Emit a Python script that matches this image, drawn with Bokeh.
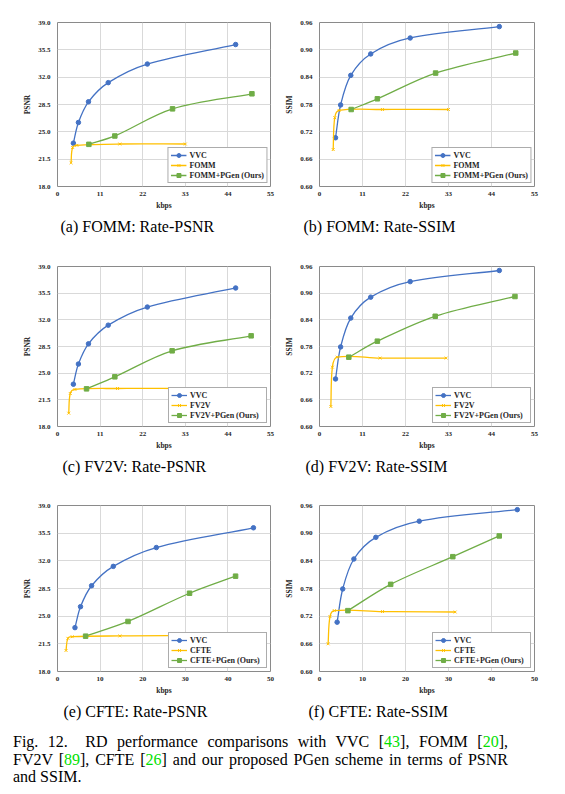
import numpy as np
from bokeh.plotting import figure
from bokeh.models import (Range1d, FixedTicker, Legend, LegendItem, Title, Div,
                          PrintfTickFormatter)
from bokeh.layouts import column, row
from bokeh.embed import file_html
from bokeh.resources import INLINE

# ---------------- data ----------------
vvc_rate = [4.1, 5.4, 8.0, 13.1, 23.2, 46.0]
vvc_psnr = [23.55, 26.2, 28.85, 31.3, 33.68, 36.18]
vvc_ssim = [0.707, 0.779, 0.844, 0.891, 0.926, 0.951]

fomm_rate = [3.5, 3.9, 5.0, 16.1, 33.0]
fomm_psnr = [21.04, 23.0, 23.27, 23.44, 23.44]
fomm_ssim = [0.681, 0.751, 0.767, 0.769, 0.769]
fomm_pgen_rate = [8.1, 14.8, 29.7, 50.2]
fomm_pgen_psnr = [23.4, 24.47, 27.94, 29.87]
fomm_pgen_ssim = [0.769, 0.7925, 0.849, 0.893]

fv2v_rate = [2.9, 3.3, 4.5, 15.5, 32.4]
fv2v_psnr = [19.75, 22.33, 22.86, 22.99, 22.99]
fv2v_ssim = [0.645, 0.7335, 0.756, 0.754, 0.754]
fv2v_pgen_rate = [7.5, 14.8, 29.6, 50.0]
fv2v_pgen_psnr = [22.94, 24.52, 27.93, 29.9]
fv2v_pgen_ssim = [0.756, 0.792, 0.848, 0.8925]

cfte_rate = [2.0, 2.44, 3.45, 14.65, 31.55]
cfte_psnr = [20.66, 22.2, 22.4, 22.5, 22.55]
cfte_ssim = [0.66, 0.719, 0.732, 0.730, 0.729]
cfte_pgen_rate = [6.6, 16.55, 31.0, 41.8]
cfte_pgen_psnr = [22.47, 24.33, 27.9, 30.06]
cfte_pgen_ssim = [0.732, 0.789, 0.849, 0.894]

x_ticks_55 = [0, 11, 22, 33, 44, 55]
x_ticks_50 = [0, 10, 20, 30, 40, 50]
psnr_ticks = [18.0, 21.5, 25.0, 28.5, 32.0, 35.5, 39.0]
ssim_ticks = [0.60, 0.66, 0.72, 0.78, 0.84, 0.90, 0.96]

captions = ["(a) FOMM: Rate-PSNR", "(b) FOMM: Rate-SSIM",
            "(c) FV2V: Rate-PSNR", "(d) FV2V: Rate-SSIM",
            "(e) CFTE: Rate-PSNR", "(f) CFTE: Rate-SSIM"]

BLUE, YELLOW, GREEN = "#4472C4", "#FFC000", "#70AD47"
SERIF = "Liberation Serif"


def smooth_controls(xs, ys, sx, sy):
    """Bezier control points (Excel-like smoothing) through the given points."""
    P = np.column_stack([np.asarray(xs, float) * sx, np.asarray(ys, float) * sy])
    n = len(P)
    T = np.zeros_like(P)
    for i in range(n):
        d = P[min(i + 1, n - 1)] - P[max(i - 1, 0)]
        T[i] = d / np.hypot(*d)
    out = {k: [] for k in ("x0", "y0", "x1", "y1", "cx0", "cy0", "cx1", "cy1")}
    for i in range(n - 1):
        L = np.hypot(*(P[i + 1] - P[i]))
        c0 = P[i] + T[i] * L / 3
        c1 = P[i + 1] - T[i + 1] * L / 3
        out["x0"].append(P[i][0] / sx); out["y0"].append(P[i][1] / sy)
        out["x1"].append(P[i + 1][0] / sx); out["y1"].append(P[i + 1][1] / sy)
        out["cx0"].append(c0[0] / sx); out["cy0"].append(c0[1] / sy)
        out["cx1"].append(c1[0] / sx); out["cy1"].append(c1[1] / sy)
    return out


def make_panel(width, height, mbl, mbr, mbt, mbb, xmax, xticks, ylo, yhi,
               yticks, yfmt, ylabel, series, caption, cap_offset, cap_standoff):
    p = figure(width=width, height=height, output_backend="svg",
               toolbar_location=None, x_range=Range1d(0, xmax),
               y_range=Range1d(ylo, yhi), min_border_left=mbl,
               min_border_right=mbr, min_border_top=mbt, min_border_bottom=mbb)
    p.outline_line_color = "#8a8a8a"
    p.outline_line_width = 1
    p.background_fill_color = "white"
    p.border_fill_color = "white"
    p.grid.grid_line_color = "#d9d9d9"
    p.grid.grid_line_width = 1
    p.xaxis.ticker = FixedTicker(ticks=xticks)
    p.yaxis.ticker = FixedTicker(ticks=yticks)
    p.yaxis.formatter = PrintfTickFormatter(format=yfmt)
    p.xaxis.axis_label = "kbps"
    p.yaxis.axis_label = ylabel
    for ax in (p.xaxis[0], p.yaxis[0]):
        ax.axis_line_color = None
        ax.major_tick_line_color = None
        ax.minor_tick_line_color = None
        ax.major_tick_out = 0
        ax.major_tick_in = 0
        ax.major_label_text_font = SERIF
        ax.major_label_text_font_style = "bold"
        ax.major_label_text_font_size = "7px"
        ax.major_label_text_color = "#262626"
        ax.axis_label_text_font = SERIF
        ax.axis_label_text_font_style = "bold"
        ax.axis_label_text_font_size = "7.5px"
        ax.axis_label_text_color = "#262626"
    p.xaxis.major_label_standoff = 5
    p.xaxis.axis_label_standoff = 2
    p.yaxis.major_label_standoff = 7
    p.yaxis.axis_label_standoff = 3

    sx = (width - mbl - mbr) / xmax
    sy = (height - mbt - mbb) / (yhi - ylo)
    items = []
    for label, xs, ys, color, marker in series:
        ctrl = smooth_controls(xs, ys, sx, sy)
        b = p.bezier(line_color=color, line_width=1.3, **ctrl)
        s = p.scatter(xs, ys, marker=marker, size=4.5 if marker != "x" else 4,
                      color=color, line_width=1)
        items.append(LegendItem(label=label, renderers=[b, s]))
    leg = Legend(items=items, location="bottom_right", margin=3, padding=2,
                 spacing=0, label_height=10, glyph_height=10, glyph_width=16,
                 label_standoff=3, label_width=74,
                 label_text_font=SERIF, label_text_font_style="bold",
                 label_text_font_size="8px", label_text_color="#262626",
                 border_line_color="#595959", border_line_width=1,
                 background_fill_alpha=1.0)
    p.add_layout(leg)
    t = Title(text=caption, align="left", offset=cap_offset,
              text_font=SERIF, text_font_style="normal",
              text_font_size="16px", text_color="black", standoff=cap_standoff)
    p.add_layout(t, "below")
    return p


def series_set(name, r, psnr, ssim, pr, ppsnr, pssim, metric):
    if metric == "psnr":
        return [("VVC", vvc_rate, vvc_psnr, BLUE, "circle"),
                (name, r, psnr, YELLOW, "x"),
                (name + "+PGen (Ours)", pr, ppsnr, GREEN, "square")]
    return [("VVC", vvc_rate, vvc_ssim, BLUE, "circle"),
            (name, r, ssim, YELLOW, "x"),
            (name + "+PGen (Ours)", pr, pssim, GREEN, "square")]


groups = [
    ("FOMM", fomm_rate, fomm_psnr, fomm_ssim, fomm_pgen_rate, fomm_pgen_psnr, fomm_pgen_ssim),
    ("FV2V", fv2v_rate, fv2v_psnr, fv2v_ssim, fv2v_pgen_rate, fv2v_pgen_psnr, fv2v_pgen_ssim),
    ("CFTE", cfte_rate, cfte_psnr, cfte_ssim, cfte_pgen_rate, cfte_pgen_psnr, cfte_pgen_ssim),
]
# per-row layout: (height, top border, bottom border)
row_geom = [(248, 22, 62), (248, 18, 70), (230, 9, 55)]
cap_offsets = [(3, -16), (5, -14), (6, -11)]

rows = []
for gi, g in enumerate(groups):
    name = g[0]
    h, mbt, mbb = row_geom[gi]
    xmax, xt = (55, x_ticks_55) if gi < 2 else (50, x_ticks_50)
    left = make_panel(282, h, 57, 12, mbt, mbb, xmax, xt, 18.0, 39.0, psnr_ticks,
                      "%.1f", "PSNR", series_set(*g, "psnr"), captions[2 * gi],
                      cap_offsets[gi][0], 6)
    right = make_panel(281, h, 37, 29, mbt, mbb, xmax, xt, 0.60, 0.96, ssim_ticks,
                       "%.2f", "SSIM", series_set(*g, "ssim"), captions[2 * gi + 1],
                       cap_offsets[gi][1], 6)
    rows.append(row(left, right))

gc = "#00e000"
line_style = ("font-family:'Liberation Serif';font-size:16px;line-height:17.5px;"
              "color:black;width:495px;")
just = "text-align:justify;text-align-last:justify;"
cap_html = (
    '<div style="%s%s">Fig. 12.&ensp; RD performance comparisons with VVC '
    '[<span style="color:%s">43</span>], FOMM [<span style="color:%s">20</span>],</div>'
    '<div style="%s%s">FV2V [<span style="color:%s">89</span>], CFTE '
    '[<span style="color:%s">26</span>] and our proposed PGen scheme in terms of PSNR</div>'
    '<div style="%s">and SSIM.</div>'
    % (line_style, just, gc, gc, line_style, just, gc, gc, line_style)
)
div = Div(text=cap_html, width=500, height=60, margin=(7, 0, 0, 13))

layout = column(*rows, div)
open("out.html", "w").write(file_html(layout, INLINE))
